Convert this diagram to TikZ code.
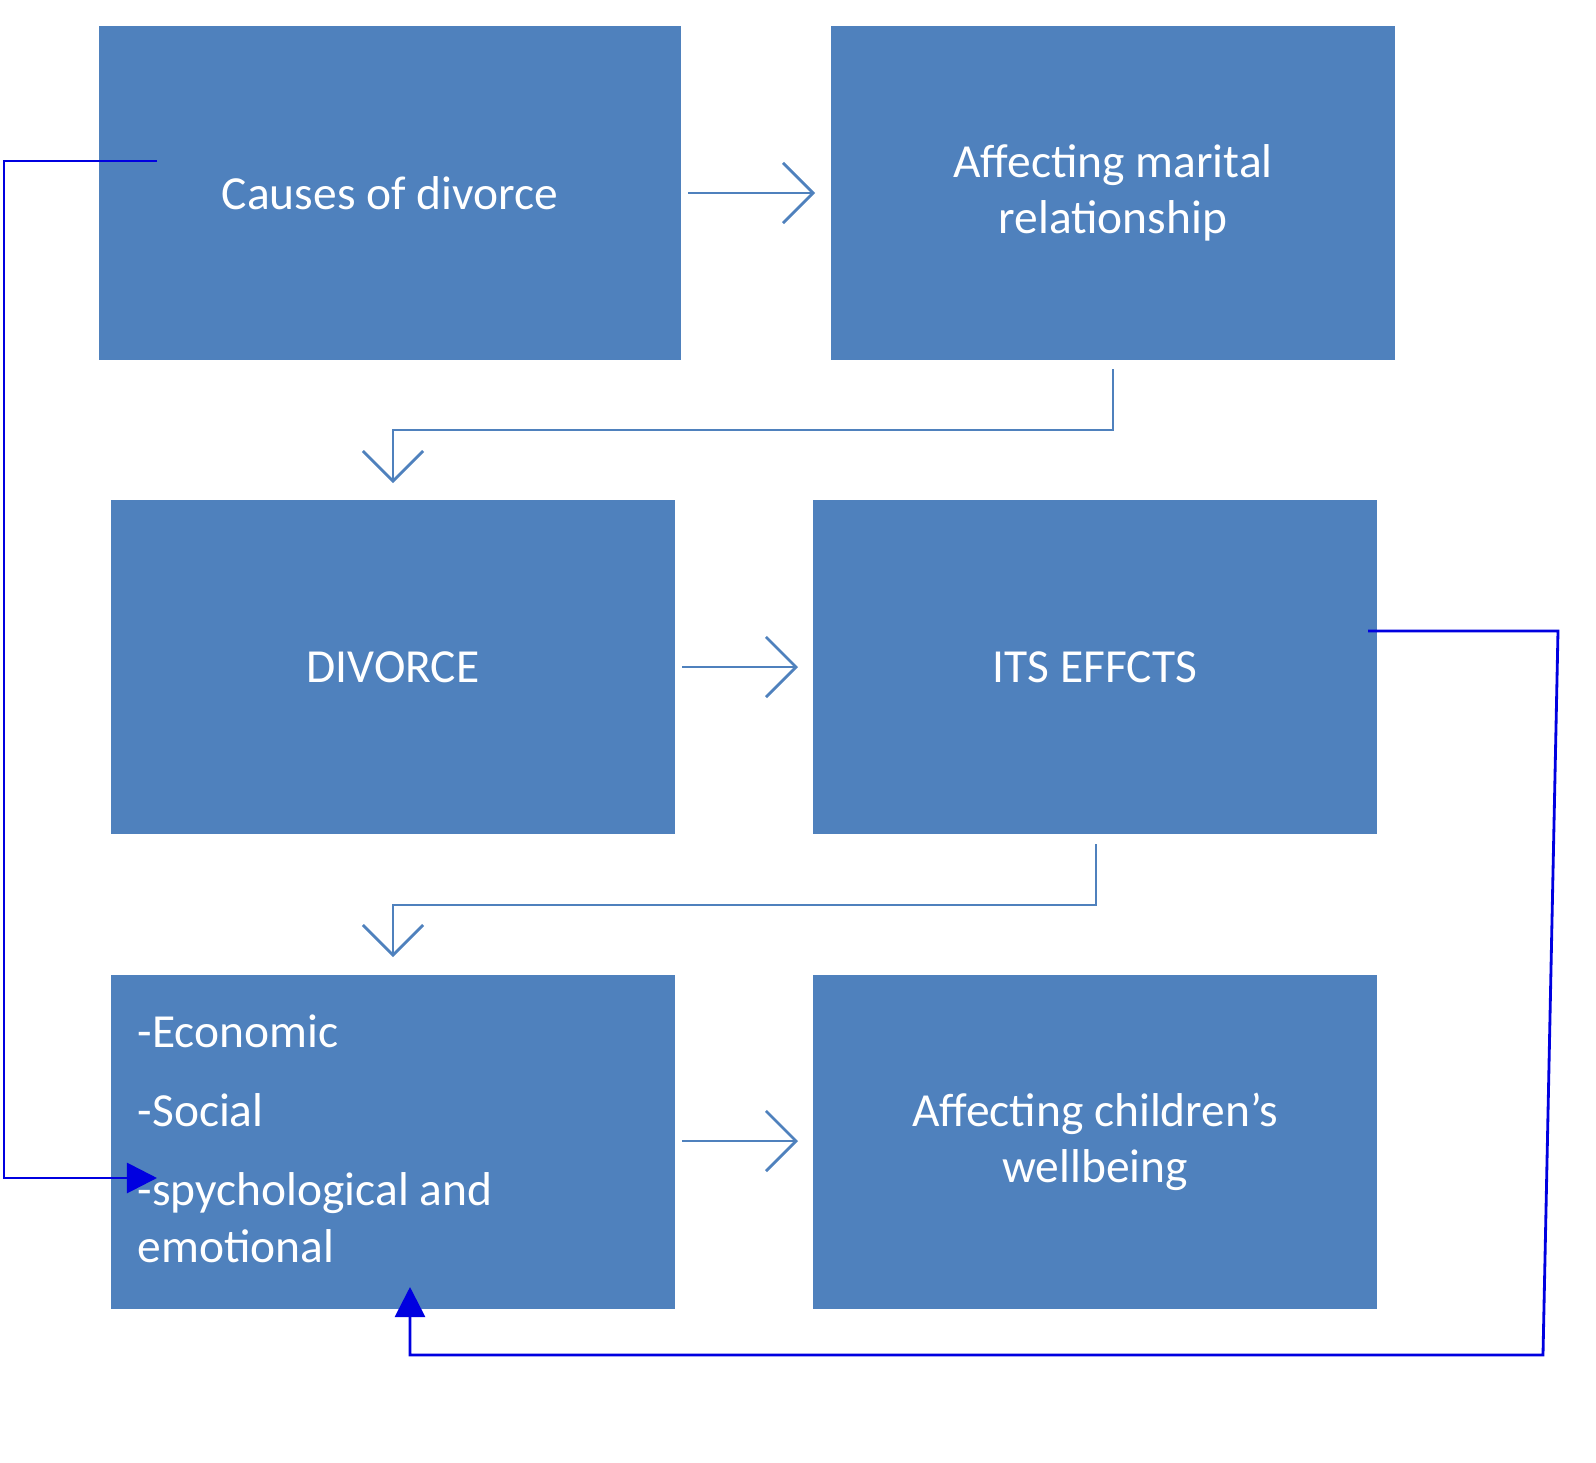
\documentclass[tikz,border=0pt]{standalone}
\usepackage{fontspec}
\setmainfont{Carlito}
\usetikzlibrary{arrows.meta,positioning}
\definecolor{boxblue}{HTML}{4F81BD}
\definecolor{linkblue}{HTML}{0000E0}
\begin{document}
\begin{tikzpicture}[x=0.01cm,y=-0.01cm]
\tikzstyle{block} = [
	fill=boxblue,
	text=white,
	inner sep=0pt,
	minimum width=5.63cm,
	minimum height=3.33cm,
	align=center,
	font=\fontsize{13.5}{16}\selectfont
];
\tikzstyle{flow} = [draw=boxblue, thick, -{Straight Barb[length=3mm,width=6mm]}];
\tikzstyle{link} = [draw=linkblue, thick, -{Triangle[length=3mm,width=3mm]}];
\useasboundingbox (0,0) rectangle (1596,1463);

\node[block,minimum width=5.81cm](CAUSE) at (390,193) {Causes of divorce};
\node[block](MARITAL) at (1113,193) {Affecting marital\\relationship};
\node[block](DIV) at (393,667) {DIVORCE};
\node[block](EFF) at (1095,667) {ITS EFFCTS};
\node[block](KIND) at (393,1142) {};
\node[block](CHILD) at (1095,1142) {Affecting children's\\wellbeing};

% list inside the lower left box
\begin{scope}[every node/.style={anchor=base west,text=white,inner sep=0pt,font=\fontsize{13.5}{16}\selectfont}]
	\node(ECO) at (137,1047) {-Economic};
	\node(SOC) at (137,1126) {-Social};
	\node(PSY) at (137,1205) {-spychological and};
	\node(EMO) at (137,1262) {emotional};
\end{scope}

\coordinate (M1) at (1113,369);
\coordinate (D1) at (393,483);
\coordinate (E1) at (1096,844);
\coordinate (K1) at (393,957);
\draw[flow] (688,193) -- (815,193);
\draw[flow] (M1) -- (1113,430) -- (393,430) -- (D1);
\draw[flow] (682,667) -- (798,667);
\draw[flow] (E1) -- (1096,905) -- (393,905) -- (K1);
\draw[flow] (682,1141) -- (798,1141);

\coordinate (C1) at (157,161);
\coordinate (P1) at (157,1178);
\coordinate (F1) at (1368,631);
\coordinate (K2) at (410,1287);
\draw[link] (C1) -- (4,161) -- (4,1178) -- (P1);
\draw[link] (F1) -- (1558,631) -- (1543,1355) -- (410,1355) -- (K2);
\end{tikzpicture}
\end{document}
